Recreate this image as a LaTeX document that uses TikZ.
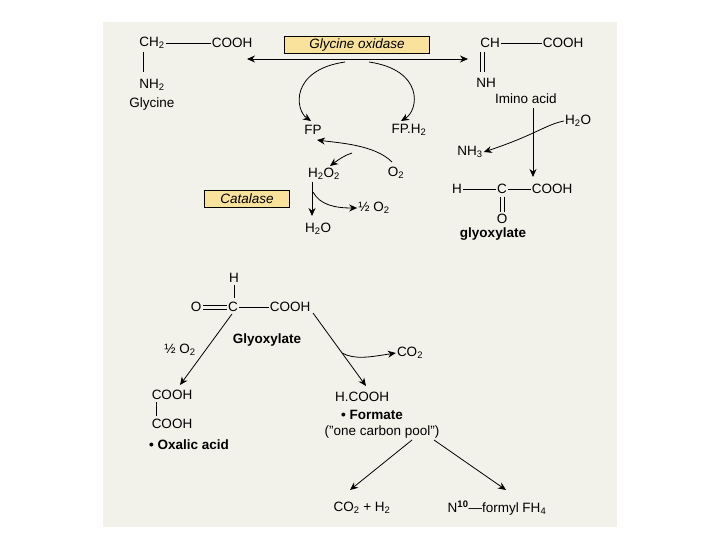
\documentclass[tikz,border=0pt]{standalone}
\usepackage{fontspec}
\setmainfont{Liberation Sans}
\usetikzlibrary{arrows.meta}
\definecolor{panel}{HTML}{F3F2EA}
\definecolor{enz}{HTML}{F8E29C}
\newcommand{\sbs}[1]{\textsubscript{#1}}
\begin{document}
\begin{tikzpicture}[x=1pt,y=-1pt,
  every node/.style={font=\fontsize{13.5}{15}\selectfont,inner sep=1pt},
  bld/.style={font=\fontsize{13.5}{15}\selectfont\bfseries},
  enzbox/.style={draw,thick,fill=enz,font=\fontsize{13.5}{15}\selectfont\itshape,minimum height=17pt,inner sep=2pt},
  arr/.style={-{Stealth[length=8pt,width=7pt]},thick},
  bond/.style={thick}]
\useasboundingbox (0,0) rectangle (720,540);
\fill[panel] (103,22) rectangle (617,527);
% glycine
\node (ch2) at (152,43) {CH\sbs{2}};
\node (cooh1) at (232,43) {COOH};
\node (nh2) at (152,85) {NH\sbs{2}};
\node (gly) at (152,104) {Glycine};
\draw[bond] (ch2.east) -- (cooh1.west);
\draw[bond] (143,52) -- (143,72);
% enzyme
\node[enzbox,minimum width=145pt] (gox) at (357,45) {Glycine oxidase};
\coordinate (la) at (247,59);
\coordinate (ra) at (468,59);
\draw[{Stealth[length=8pt,width=7pt]}-{Stealth[length=8pt,width=7pt]},thick] (la) -- (ra);
% imino acid
\node (ch) at (490,43) {CH};
\node (cooh2) at (563,43) {COOH};
\draw[bond] (ch.east) -- (cooh2.west);
\draw[bond] (480,52) -- (480,72) (484,52) -- (484,72);
\node (nh) at (486,83) {NH};
\node (imino) at (526,99) {Imino acid};
% cycle
\node (fp) at (313,130) {FP};
\node (fph) at (409,130) {FP.H\sbs{2}};
\draw[arr] (345,62) .. controls (290,70) and (295,110) .. (311,121);
\draw[arr] (369,62) .. controls (424,70) and (419,110) .. (401,121);
\node (o2) at (396,173) {O\sbs{2}};
\node (h2o2) at (324,174) {H\sbs{2}O\sbs{2}};
\draw[arr] (392,162) .. controls (375,145) and (340,143) .. (317,140);
\draw[arr] (352,153) .. controls (345,155) and (338,160) .. (330,166);
% catalase
\node[enzbox,minimum width=85pt] (cat) at (247,199) {Catalase};
\node (h2o) at (318,229) {H\sbs{2}O};
\node (ho2) at (374,208) {½ O\sbs{2}};
\draw[arr] (312,182) -- (312,216);
\draw[arr] (313,192) .. controls (320,205) and (335,208) .. (ho2.west);
% right branch
\node (h2oR) at (578,121) {H\sbs{2}O};
\node (nh3) at (470,152) {NH\sbs{3}};
\draw[arr] (533,108) -- (533,177);
\draw[arr] (h2oR.west) .. controls (545,125) and (535,135) .. (nh3.east);
\node (hR) at (457,189) {H};
\node (cR) at (502,189) {C};
\node (coohR) at (552,189) {COOH};
\draw[bond] (hR.east) -- (cR.west) (cR.east) -- (coohR.west);
\draw[bond] (500,197) -- (500,212) (504,197) -- (504,212);
\node (oR) at (502,219) {O};
\node[bld] (glyox1) at (493,234) {glyoxylate};
% lower glyoxylate
\node (hL) at (234,278) {H};
\node (oL) at (196,307) {O};
\node (cL) at (233,307) {C};
\node (coohL) at (290,307) {COOH};
\draw[bond] (234,285) -- (234,298);
\draw[bond] (203,305) -- (227,305) (203,309) -- (227,309);
\draw[bond] (cL.east) -- (coohL.west);
\node[bld] (glyox2) at (267,340) {Glyoxylate};
\node (hO2) at (180,350) {½ O\sbs{2}};
\draw[arr] (232,314) -- (180,385);
\node (ox1) at (172,395) {COOH};
\node (ox2) at (172,424) {COOH};
\draw[bond] (156,402) -- (156,416);
\node[bld] (oxal) at (189,445) {• Oxalic acid};
\node (hcooh) at (362,397) {H.COOH};
\node[bld] (form) at (372,415) {• Formate};
\node (pool) at (382,432) {("one carbon pool")};
\node (co2a) at (410,353) {CO\sbs{2}};
\draw[arr] (313,313) -- (366,386);
\draw[arr] (342,353) .. controls (355,360) and (370,357) .. (co2a.west);
\node (co2h2) at (362,508) {CO\sbs{2} + H\sbs{2}};
\node (n10) at (497,508) {N\textsuperscript{\bfseries 10}—formyl FH\sbs{4}};
\draw[arr] (412,440) -- (350,490);
\draw[arr] (434,440) -- (506,490);
\end{tikzpicture}
\end{document}
